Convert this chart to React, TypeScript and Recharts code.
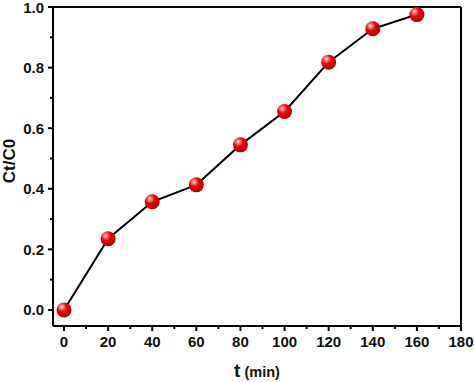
import React from 'react';
import { LineChart, Line, XAxis, YAxis, ReferenceLine, Label } from 'recharts';

const times = [0, 20, 40, 60, 80, 100, 120, 140, 160];
const ratio = [0.0, 0.235, 0.357, 0.413, 0.545, 0.655, 0.818, 0.928, 0.975];
const xTicks = [0, 10, 20, 30, 40, 50, 60, 70, 80, 90, 100, 110, 120, 130, 140, 150, 160, 170, 180];
const yTicks = [0, 0.1, 0.2, 0.3, 0.4, 0.5, 0.6, 0.7, 0.8, 0.9, 1.0];

const data = times.map((t, i) => ({ t, v: ratio[i] }));

const FONT = 'Liberation Sans, Arial, sans-serif';

const XTick = (props: any) => {
  const { x, y, payload } = props;
  const major = payload.value % 20 === 0;
  return (
    <g>
      <line x1={x} y1={y} x2={x} y2={y + (major ? 5 : 3)} stroke="#000" strokeWidth={2} />
      {major && (
        <text x={x} y={y + 21} textAnchor="middle" fontFamily={FONT} fontWeight="bold" fontSize={15} fill="#111">
          {payload.value}
        </text>
      )}
    </g>
  );
};

const YTick = (props: any) => {
  const { x, y, payload } = props;
  const v = Math.round(payload.value * 10);
  const major = v % 2 === 0;
  return (
    <g>
      <line x1={x} y1={y} x2={x - (major ? 5 : 3)} y2={y} stroke="#000" strokeWidth={2} />
      {major && (
        <text x={x - 9} y={y + 5.5} textAnchor="end" fontFamily={FONT} fontWeight="bold" fontSize={15} fill="#111">
          {(payload.value as number).toFixed(1)}
        </text>
      )}
    </g>
  );
};

const Ball = (props: any) => {
  const { cx, cy, index } = props;
  if (cx == null || cy == null) return null;
  const id = `ball-grad-${index}`;
  return (
    <g key={id}>
      <defs>
        <radialGradient id={id} cx="35%" cy="32%" r="70%" fx="35%" fy="30%">
          <stop offset="0%" stopColor="#ffffff" />
          <stop offset="18%" stopColor="#ff8080" />
          <stop offset="45%" stopColor="#f00000" />
          <stop offset="100%" stopColor="#b00000" />
        </radialGradient>
      </defs>
      <circle cx={cx} cy={cy} r={7.5} fill={`url(#${id})`} />
    </g>
  );
};

export default function App() {
  return (
    <div style={{ position: 'absolute', left: 0, top: 0, background: '#fff' }}>
      <LineChart width={474} height={382} data={data} margin={{ top: 7, right: 13, bottom: 0, left: 0 }}>
        <XAxis
          dataKey="t"
          type="number"
          domain={[-5, 180]}
          ticks={xTicks}
          interval={0}
          tick={<XTick />}
          tickLine={false}
          tickSize={0}
          tickMargin={0}
          height={56}
          axisLine={{ stroke: '#000', strokeWidth: 2 }}
          allowDataOverflow
        >
          <Label
            content={() => (
              <text x={257} y={377} textAnchor="middle" fontFamily={FONT} fontWeight="bold" fill="#111">
                <tspan fontSize={19}>t</tspan>
                <tspan fontSize={14.5}> (min)</tspan>
              </text>
            )}
          />
        </XAxis>
        <YAxis
          type="number"
          domain={[-0.053, 1.0]}
          ticks={yTicks}
          interval={0}
          tick={<YTick />}
          tickLine={false}
          tickSize={0}
          tickMargin={0}
          width={53}
          axisLine={{ stroke: '#000', strokeWidth: 2 }}
          allowDataOverflow
        >
          <Label
            content={() => (
              <text
                x={9}
                y={161}
                transform="rotate(-90, 9, 161)"
                textAnchor="middle"
                dominantBaseline="central"
                fontFamily={FONT}
                fontWeight="bold"
                fontSize={17}
                fill="#111"
              >
                Ct/C0
              </text>
            )}
          />
        </YAxis>
        <ReferenceLine y={1.0} stroke="#000" strokeWidth={2} />
        <ReferenceLine x={180} stroke="#000" strokeWidth={2} />
        <Line
          dataKey="v"
          stroke="#000"
          strokeWidth={2}
          dot={<Ball />}
          activeDot={false}
          isAnimationActive={false}
        />
      </LineChart>
    </div>
  );
}
